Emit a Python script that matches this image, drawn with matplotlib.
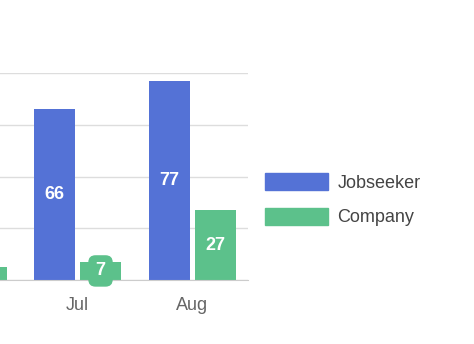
import numpy as np
import matplotlib
matplotlib.use("Agg")
import matplotlib.pyplot as plt
from matplotlib.patches import Patch

months = ["Jun", "Jul", "Aug"]
jobseeker = [np.nan, 66, 77]
company = [5, 7, 27]
series_names = ["Jobseeker", "Company"]
y_ticks = [0, 20, 40, 60, 80]

BLUE = "#5472d6"
GREEN = "#5cc18b"

plt.rcParams["font.family"] = ["Liberation Sans", "DejaVu Sans"]

W, H = 474, 344
fig = plt.figure(figsize=(W / 100, H / 100), dpi=100)
ax = fig.add_axes([0, (H - 280) / H, 248 / W, 207 / H])

x = np.arange(len(months))
bw = 0.358
off = 0.2009
b1 = ax.bar(x - off, jobseeker, bw, color=BLUE, zorder=2)
b2 = ax.bar(x + off, company, bw, color=GREEN, zorder=2)

XMIN, XMAX = 0.323, 2.489
ax.set_yticks(y_ticks)
ax.yaxis.grid(True, color="#dddddd", linewidth=1, zorder=0)
ax.tick_params(axis="y", left=False, labelleft=False)
ax.set_xticks(x)
ax.set_xticklabels(months)
ax.set_xlim(XMIN, XMAX)
ax.set_ylim(0, 80)
ax.tick_params(axis="x", length=0, pad=12, labelsize=13, labelcolor="#666666")
for s in ["top", "right", "left"]:
    ax.spines[s].set_visible(False)
ax.spines["bottom"].set_color("#cccccc")
ax.spines["bottom"].set_zorder(3)

for xs, vals, col in [(x - off, jobseeker, BLUE), (x + off, company, GREEN)]:
    for xi, v in zip(xs, vals):
        if np.isnan(v) or xi < XMIN or xi > XMAX:
            continue
        kw = {}
        if v < 10:
            kw["bbox"] = dict(boxstyle="round,pad=0.4", fc=col, ec="none")
        ax.text(xi, v / 2, f"{int(v)}", ha="center", va="center", color="white",
                fontsize=13, fontweight="bold", zorder=5, clip_on=False, **kw)

handles = [Patch(color=BLUE), Patch(color=GREEN)]
fig.legend(handles, series_names, loc="upper left",
           bbox_to_anchor=(265 / W, 1 - 173 / H), frameon=False,
           fontsize=13, handlelength=3.5, handleheight=1.05,
           handletextpad=0.5, labelspacing=0.9, borderpad=0,
           borderaxespad=0, labelcolor="#444444")

fig.savefig("out.png", dpi=100)
